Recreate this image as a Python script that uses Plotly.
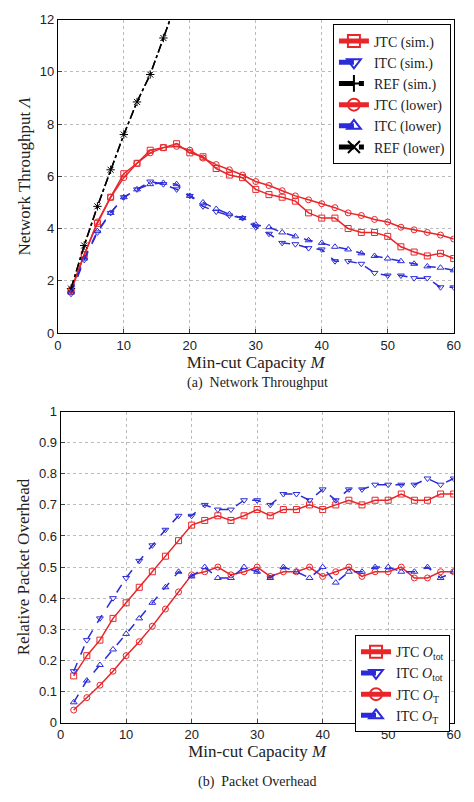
import plotly.graph_objects as go

M = list(range(2, 61, 2))
M_ref = list(range(2, 20, 2))

# (a) network throughput
jtc_sim = [1.6, 3.0, 4.2, 5.2, 6.1, 6.5, 7.0, 7.1, 7.25, 6.9, 6.75, 6.3, 6.05, 5.95, 5.5,
           5.3, 5.2, 5.05, 4.6, 4.4, 4.4, 4.0, 3.85, 3.85, 3.7, 3.3, 3.1, 2.95, 3.05, 2.85]
itc_sim = [1.5, 2.8, 3.85, 4.6, 5.2, 5.5, 5.8, 5.7, 5.5, 5.25, 4.85, 4.65, 4.5, 4.4, 4.05,
           3.8, 3.45, 3.4, 3.25, 3.2, 2.75, 2.75, 2.65, 2.3, 2.2, 2.2, 2.1, 2.1, 1.75, 1.75]
ref_sim = [1.7, 3.35, 4.85, 6.25, 7.6, 8.85, 9.9, 11.3, 12.7]
jtc_low = [1.65, 3.0, 4.25, 5.2, 5.95, 6.5, 6.9, 7.1, 7.15, 7.0, 6.7, 6.45, 6.25, 6.05, 5.8,
           5.65, 5.45, 5.25, 5.1, 4.95, 4.8, 4.6, 4.5, 4.35, 4.25, 4.05, 3.95, 3.85, 3.75, 3.6]
itc_low = [1.55, 2.85, 3.9, 4.6, 5.2, 5.5, 5.7, 5.75, 5.7, 5.25, 5.0, 4.75, 4.55, 4.4, 4.15,
           4.05, 3.85, 3.7, 3.55, 3.45, 3.3, 3.2, 3.05, 2.95, 2.85, 2.75, 2.65, 2.55, 2.5, 2.4]
ref_low = [1.7, 3.35, 4.85, 6.25, 7.6, 8.85, 9.9, 11.3, 12.7]

# (b) packet overhead
jtc_tot = [.15, .215, .265, .335, .385, .435, .485, .535, .585, .635, .65, .665, .65, .665, .685,
           .665, .685, .685, .70, .685, .70, .715, .70, .715, .715, .735, .715, .715, .735, .735]
itc_tot = [.165, .265, .335, .40, .465, .52, .57, .62, .665, .665, .70, .685, .685, .715, .715,
           .70, .735, .735, .715, .75, .715, .75, .75, .765, .765, .765, .765, .785, .765, .785]
jtc_t = [.04, .08, .12, .165, .215, .26, .31, .365, .42, .475, .485, .50, .475, .485, .50,
         .47, .485, .485, .50, .47, .485, .50, .47, .485, .485, .50, .465, .465, .485, .485]
itc_t = [.065, .135, .185, .235, .285, .335, .385, .435, .485, .47, .50, .465, .465, .50, .485,
         .465, .50, .485, .465, .50, .45, .485, .485, .50, .50, .485, .485, .50, .465, .485]

RED = "#e8262a"
BLUE = "#2b2bd9"
serif = "Liberation Serif"

fig = go.Figure()

def add(x, y, name, color, dash, symbol, xa, ya, legend):
    fig.add_trace(go.Scatter(
        x=x, y=y, name=name, mode="lines+markers", xaxis=xa, yaxis=ya, legend=legend,
        line=dict(color=color, dash=dash, width=1.5),
        marker=dict(symbol=symbol, size=6, color=color, line=dict(color=color, width=1))))

add(M, jtc_sim, "JTC (sim.)", RED, "solid", "square-open", "x", "y", "legend")
add(M, itc_sim, "ITC (sim.)", BLUE, "dash", "triangle-down-open", "x", "y", "legend")
add(M_ref, ref_sim, "REF (sim.)", "black", "dashdot", "cross-thin-open", "x", "y", "legend")
add(M, jtc_low, "JTC (lower)", RED, "solid", "circle-open", "x", "y", "legend")
add(M, itc_low, "ITC (lower)", BLUE, "dash", "triangle-up-open", "x", "y", "legend")
add(M_ref, ref_low, "REF (lower)", "black", "dashdot", "x-thin-open", "x", "y", "legend")

add(M, jtc_tot, "JTC <i>O</i><sub>tot</sub>", RED, "solid", "square-open", "x2", "y2", "legend2")
add(M, itc_tot, "ITC <i>O</i><sub>tot</sub>", BLUE, "dash", "triangle-down-open", "x2", "y2", "legend2")
add(M, jtc_t, "JTC <i>O</i><sub>T</sub>", RED, "solid", "circle-open", "x2", "y2", "legend2")
add(M, itc_t, "ITC <i>O</i><sub>T</sub>", BLUE, "dash", "triangle-up-open", "x2", "y2", "legend2")

ax = dict(showgrid=True, gridcolor="#bbbbbb", griddash="dot", showline=True, mirror=True,
          linecolor="black", linewidth=1, ticks="inside", ticklen=4, zeroline=False,
          tickfont=dict(family="Liberation Sans", size=13, color="#222"))

fig.update_layout(
    width=474, height=802, plot_bgcolor="white", paper_bgcolor="white",
    margin=dict(l=0, r=0, t=0, b=0),
    font=dict(family=serif, color="#222"),
    xaxis=dict(ax, domain=[0.099, 0.954], range=[0, 60], dtick=10, anchor="y",
               title=dict(text="Min-cut Capacity <i>M</i>", font=dict(size=17), standoff=0)),
    yaxis=dict(ax, domain=[0.596, 0.994], range=[0, 12], dtick=2, anchor="x",
               title=dict(text="Network Throughput <i>Λ</i>", font=dict(size=17), standoff=4)),
    xaxis2=dict(ax, domain=[0.105, 0.954], range=[0, 60], dtick=10, anchor="y2",
                title=dict(text="Min-cut Capacity <i>M</i>", font=dict(size=17), standoff=0)),
    yaxis2=dict(ax, domain=[0.101, 0.496], range=[0, 1], dtick=0.1, anchor="x2",
                title=dict(text="Relative Packet Overhead", font=dict(size=17), standoff=4)),
    legend=dict(x=0.948, y=0.988, xanchor="right", yanchor="top", bordercolor="black",
                borderwidth=1, bgcolor="white", font=dict(size=14), tracegroupgap=0,
                itemwidth=30, itemsizing="constant"),
    legend2=dict(x=0.946, y=0.212, xanchor="right", yanchor="top", bordercolor="black",
                 borderwidth=1, bgcolor="white", font=dict(size=14), tracegroupgap=0,
                 itemwidth=30, itemsizing="constant"),
    annotations=[
        dict(text="(a)  Network Throughput", x=0.53, y=0.532, xref="paper", yref="paper",
             yanchor="middle", showarrow=False, font=dict(size=14)),
        dict(text="(b)  Packet Overhead", x=0.53, y=0.025, xref="paper", yref="paper",
             yanchor="middle", showarrow=False, font=dict(size=14)),
    ],
)

fig.write_html("out.html")
